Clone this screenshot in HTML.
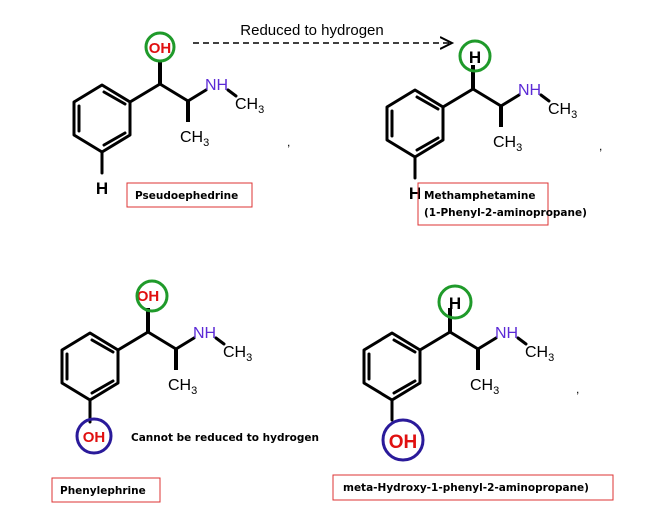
<!DOCTYPE html>
<html><head><meta charset="utf-8"><style>
html,body{margin:0;padding:0;background:#fff;}
svg{display:block;font-family:"Liberation Sans",Arial,sans-serif;}
.b{stroke:#000;stroke-width:3;fill:none;stroke-linejoin:round;stroke-linecap:round}
.lbl{font-family:"DejaVu Sans","Liberation Sans",sans-serif;font-weight:bold;font-size:10.5px;fill:#000}
</style></head><body>
<svg width="646" height="510" viewBox="0 0 646 510" xmlns="http://www.w3.org/2000/svg">
<defs>
<marker id="ah" markerWidth="10" markerHeight="10" refX="8" refY="5" orient="auto"><path d="M0,1 L8,5 L0,9" fill="none" stroke="#000" stroke-width="1.3"/></marker>
</defs>
<!-- arrow -->
<text x="312" y="35" font-size="15" text-anchor="middle" fill="#000">Reduced to hydrogen</text>
<line x1="193" y1="43" x2="452" y2="43" stroke="#000" stroke-width="1.5" stroke-dasharray="6,4" marker-end="url(#ah)"/>

<!-- molecule template drawn 4 times -->
<g id="m1">
<polygon class="b" points="102,85 130,102 130,135 102,152 74,135 74,102"/>
<line class="b" x1="79" y1="106" x2="79" y2="131"/>
<line class="b" x1="104" y1="92" x2="125" y2="104"/>
<line class="b" x1="104" y1="145" x2="125" y2="133"/>
<polyline class="b" points="130,102 160,84 188,101 206,90"/>
<line x1="160" y1="84" x2="160" y2="60" stroke="#000" stroke-width="4"/>
<line x1="188" y1="101" x2="188" y2="122" stroke="#000" stroke-width="4"/>
<line class="b" x1="228" y1="90" x2="236" y2="96"/>
<text x="205" y="90" font-size="16" fill="#5b2ad6">NH</text>
<text x="235" y="109" font-size="16" fill="#000">CH<tspan font-size="11" dy="4">3</tspan></text>
<text x="180" y="142" font-size="16" fill="#000">CH<tspan font-size="11" dy="4">3</tspan></text>
</g>
<use href="#m1" transform="translate(313,5)"/>
<use href="#m1" transform="translate(-12,248)"/>
<use href="#m1" transform="translate(290,248)"/>

<!-- top-left specifics -->
<line class="b" x1="102" y1="152" x2="102" y2="173"/>
<text x="102" y="194" font-size="17" font-weight="bold" text-anchor="middle">H</text>
<text x="160" y="53" font-size="15" font-weight="bold" text-anchor="middle" fill="#e01010">OH</text>
<circle cx="160" cy="47" r="14" fill="none" stroke="#1f9a2a" stroke-width="3"/>
<text x="287" y="146" font-size="12">,</text>
<rect x="127" y="183" width="125" height="24" fill="none" stroke="#d33" stroke-width="1"/>
<text class="lbl" x="135" y="199">Pseudoephedrine</text>

<!-- top-right specifics -->
<line class="b" x1="415" y1="157" x2="415" y2="178"/>
<text x="415" y="199" font-size="17" font-weight="bold" text-anchor="middle">H</text>
<text x="475" y="63" font-size="17" font-weight="bold" text-anchor="middle">H</text>
<circle cx="475" cy="56" r="15" fill="none" stroke="#1f9a2a" stroke-width="3"/>
<text x="599" y="150" font-size="12">,</text>
<rect x="418" y="183" width="130" height="42" fill="none" stroke="#d33" stroke-width="1"/>
<text class="lbl" x="424" y="199">Methamphetamine</text>
<text class="lbl" x="424" y="216">(1-Phenyl-2-aminopropane)</text>

<!-- bottom-left specifics -->
<line class="b" x1="90" y1="400" x2="90" y2="422"/>
<text x="148" y="301" font-size="15" font-weight="bold" text-anchor="middle" fill="#e01010">OH</text>
<circle cx="152" cy="296" r="15" fill="none" stroke="#1f9a2a" stroke-width="3"/>
<text x="94" y="442" font-size="15" font-weight="bold" text-anchor="middle" fill="#e01010">OH</text>
<circle cx="94" cy="436" r="17" fill="none" stroke="#2a1a9a" stroke-width="3"/>
<text class="lbl" x="131" y="441">Cannot be reduced to hydrogen</text>
<rect x="52" y="478" width="108" height="24" fill="none" stroke="#d33" stroke-width="1"/>
<text class="lbl" x="60" y="494">Phenylephrine</text>

<!-- bottom-right specifics -->
<line class="b" x1="392" y1="400" x2="392" y2="420"/>
<text x="455" y="309" font-size="17" font-weight="bold" text-anchor="middle">H</text>
<circle cx="455" cy="302" r="16" fill="none" stroke="#1f9a2a" stroke-width="3"/>
<text x="403" y="448" font-size="19" font-weight="bold" text-anchor="middle" fill="#e01010">OH</text>
<circle cx="403" cy="440" r="20" fill="none" stroke="#2a1a9a" stroke-width="3"/>
<text x="576" y="393" font-size="12">,</text>
<rect x="333" y="475" width="280" height="25" fill="none" stroke="#d33" stroke-width="1"/>
<text class="lbl" x="343" y="491">meta-Hydroxy-1-phenyl-2-aminopropane)</text>
</svg>
</body></html>
